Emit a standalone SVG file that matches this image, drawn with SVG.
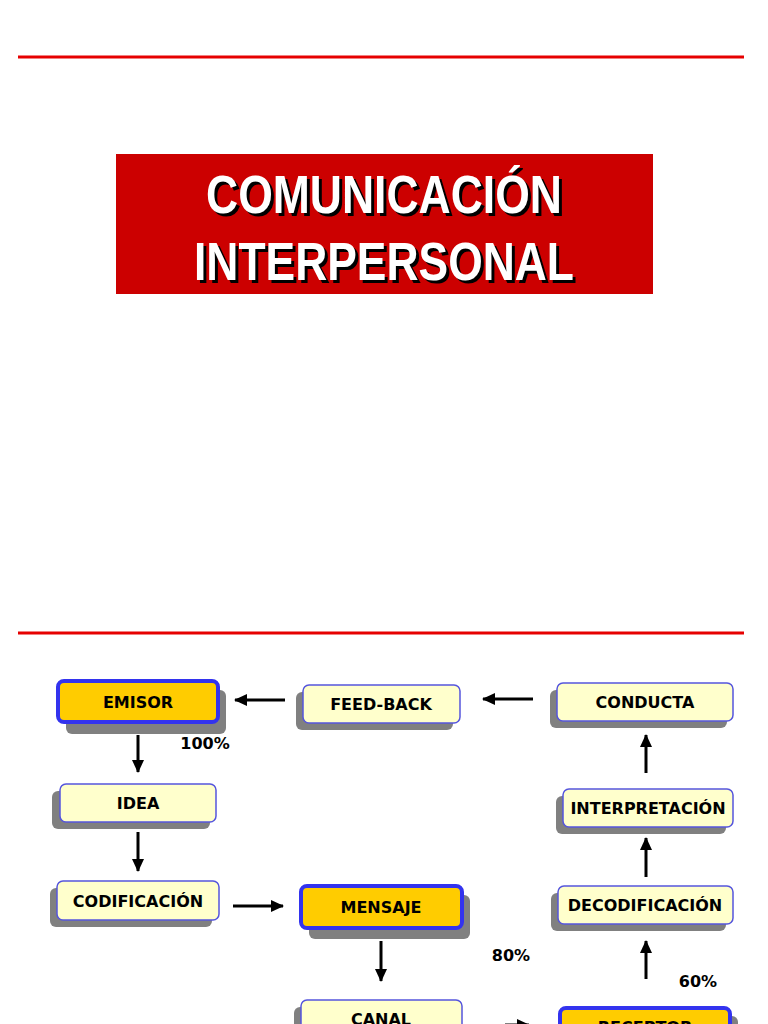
<svg xmlns="http://www.w3.org/2000/svg" width="768" height="1024" viewBox="0 0 768 1024">
<style>
.t{font-family:"DejaVu Sans",Verdana,sans-serif;font-weight:bold;font-size:16px;fill:#000;text-anchor:middle}
.y{fill:#FFCC00;stroke:#3333EE;stroke-width:4}
.l{fill:#FFFFCC;stroke:#5555DD;stroke-width:1.5}
.s{fill:#808080}
.ti{font-family:"Liberation Sans",Arial,sans-serif;font-weight:bold;font-size:54px;text-anchor:middle}
</style>
<defs><marker id="a" markerWidth="14" markerHeight="14" refX="12" refY="7" orient="auto" markerUnits="userSpaceOnUse"><path d="M0,1L13,7L0,13z" fill="#000"/></marker></defs>
<rect width="768" height="1024" fill="#fff"/>
<line x1="18" y1="57" x2="744" y2="57" stroke="#E60000" stroke-width="3"/>
<line x1="18" y1="633" x2="744" y2="633" stroke="#E60000" stroke-width="3"/>
<g id="title">
<rect x="116" y="154" width="537" height="140" fill="#CC0000"/>
<text class="ti" x="387" y="216" fill="#000" textLength="356" lengthAdjust="spacingAndGlyphs">COMUNICACIÓN</text>
<text class="ti" x="384" y="213" fill="#fff" textLength="356" lengthAdjust="spacingAndGlyphs">COMUNICACIÓN</text>
<text class="ti" x="387" y="283" fill="#000" textLength="380" lengthAdjust="spacingAndGlyphs">INTERPERSONAL</text>
<text class="ti" x="384" y="280" fill="#fff" textLength="380" lengthAdjust="spacingAndGlyphs">INTERPERSONAL</text>
</g>
<g id="emisor"><rect class="s" x="66" y="690" width="160" height="44" rx="6"/><rect class="y" x="58" y="681" width="160" height="41" rx="6"/><text class="t" x="138" y="708">EMISOR</text></g>
<g id="feedback"><rect class="s" x="296" y="692" width="157" height="38" rx="6"/><rect class="l" x="303" y="685" width="157" height="38" rx="6"/><text class="t" x="381" y="710">FEED-BACK</text></g>
<g id="conducta"><rect class="s" x="550" y="690" width="177" height="38" rx="6"/><rect class="l" x="557" y="683" width="176" height="38" rx="6"/><text class="t" x="645" y="708">CONDUCTA</text></g>
<g id="idea"><rect class="s" x="52" y="791" width="158" height="38" rx="6"/><rect class="l" x="60" y="784" width="156" height="38" rx="6"/><text class="t" x="138" y="809">IDEA</text></g>
<g id="codificacion"><rect class="s" x="50" y="888" width="162" height="39" rx="6"/><rect class="l" x="57" y="881" width="162" height="39" rx="6"/><text class="t" x="138" y="907">CODIFICACIÓN</text></g>
<g id="mensaje"><rect class="s" x="309" y="895" width="161" height="44" rx="6"/><rect class="y" x="301" y="886" width="161" height="42" rx="6"/><text class="t" x="381" y="913">MENSAJE</text></g>
<g id="interpretacion"><rect class="s" x="556" y="796" width="170" height="38" rx="6"/><rect class="l" x="563" y="789" width="170" height="38" rx="6"/><text class="t" x="648" y="814">INTERPRETACIÓN</text></g>
<g id="decodificacion"><rect class="s" x="551" y="893" width="175" height="38" rx="6"/><rect class="l" x="558" y="886" width="175" height="38" rx="6"/><text class="t" x="645" y="911">DECODIFICACIÓN</text></g>
<g id="canal"><rect class="s" x="294" y="1007" width="161" height="40" rx="6"/><rect class="l" x="301" y="1000" width="161" height="40" rx="6"/><text class="t" x="381" y="1025">CANAL</text></g>
<g id="receptor"><rect class="s" x="568" y="1016" width="170" height="40" rx="6"/><rect class="y" x="560" y="1008" width="170" height="40" rx="6"/><text class="t" x="645" y="1033">RECEPTOR</text></g>
<g id="labels" class="t">
<text x="205" y="749">100%</text><text x="511" y="961">80%</text><text x="698" y="987">60%</text>
</g>
<g id="connectors" stroke="#000" stroke-width="3" marker-end="url(#a)">
<line x1="285" y1="700" x2="235" y2="700"/>
<line x1="533" y1="699" x2="483" y2="699"/>
<line x1="138" y1="735" x2="138" y2="772"/>
<line x1="138" y1="832" x2="138" y2="871"/>
<line x1="233" y1="906" x2="283" y2="906"/>
<line x1="381" y1="941" x2="381" y2="981"/>
<line x1="646" y1="773" x2="646" y2="735"/>
<line x1="646" y1="877" x2="646" y2="838"/>
<line x1="646" y1="979" x2="646" y2="941"/>
<line x1="505" y1="1025" x2="529" y2="1025"/>
</g>
</svg>
